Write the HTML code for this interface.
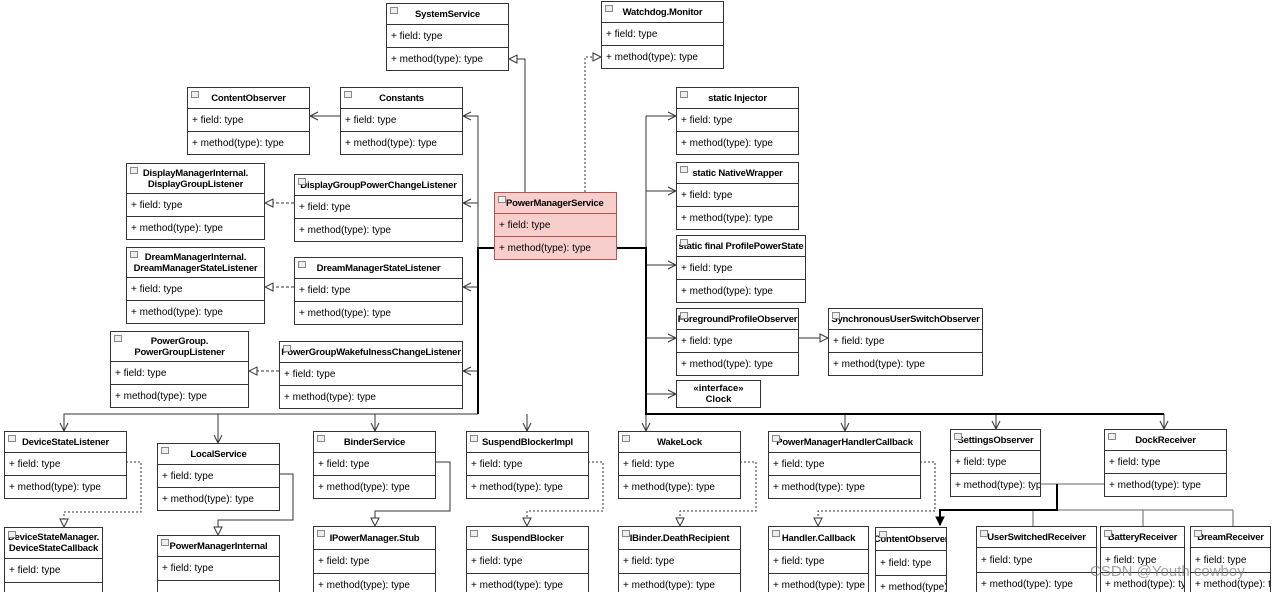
<!DOCTYPE html>
<html><head><meta charset="utf-8"><style>
html,body{margin:0;padding:0;background:#fff;width:1280px;height:592px;overflow:hidden;position:relative}
.b{position:absolute;border:1px solid #333;background:#fff;box-sizing:border-box;font:10px "Liberation Sans",sans-serif;color:#000;overflow:hidden}
.h{position:relative;font-weight:bold;font-size:9.5px;letter-spacing:-0.2px;text-align:center;border-bottom:1px solid #333;display:flex;align-items:center;justify-content:center;line-height:11px;white-space:nowrap}
.h::before{content:"";position:absolute;left:3px;top:3px;width:6px;height:5px;border:1px solid #888;background:#eee}
.r{padding-left:4px;border-bottom:1px solid #333;display:flex;align-items:center;white-space:nowrap}
.r.l{border-bottom:0}
.p{background:#f8cecc;border-color:#b85450}
.p .h,.p .r{border-color:#b85450}
svg{position:absolute;left:0;top:0}
</style></head><body>
<svg width="1280" height="592">
<defs>
<marker id="o" markerWidth="10" markerHeight="10" refX="9" refY="5" orient="auto" markerUnits="userSpaceOnUse"><path d="M1,1 L9,5 L1,9" fill="none" stroke="#333" stroke-width="1"/></marker>
<marker id="t" markerWidth="10" markerHeight="10" refX="9" refY="5" orient="auto" markerUnits="userSpaceOnUse"><path d="M1,1 L9,5 L1,9 Z" fill="#fff" stroke="#333" stroke-width="1"/></marker>
<marker id="bt" markerWidth="10" markerHeight="10" refX="9" refY="5" orient="auto" markerUnits="userSpaceOnUse"><path d="M1,1 L9,5 L1,9 Z" fill="#000" stroke="#000"/></marker>
</defs>
<g fill="none" stroke="#333" stroke-width="1">
<path d="M525,192 V59 H509" marker-end="url(#t)"/>
<path d="M585,192 V57 H601" stroke-dasharray="2,2" marker-end="url(#t)"/>
<path d="M340,116 H310" marker-end="url(#o)"/>
<path d="M478,248 V116 H463" marker-end="url(#o)"/>
<path d="M478,203 H463" marker-end="url(#o)"/>
<path d="M478,287 H463" marker-end="url(#o)"/>
<path d="M478,371 H463" marker-end="url(#o)"/>
<path d="M294,203 H265" stroke-dasharray="3,2" marker-end="url(#t)"/>
<path d="M294,287 H265" stroke-dasharray="3,2" marker-end="url(#t)"/>
<path d="M279,371 H249" stroke-dasharray="3,2" marker-end="url(#t)"/>
<path d="M646,116 H676" marker-end="url(#o)"/>
<path d="M646,191 H676" marker-end="url(#o)"/>
<path d="M646,265 H676" marker-end="url(#o)"/>
<path d="M646,338 H676" marker-end="url(#o)"/>
<path d="M646,394 H676" marker-end="url(#o)"/>
<path d="M646,116 V248"/>
<path d="M798,338 H828" marker-end="url(#t)"/>
<path d="M478,414 H64 V431" marker-end="url(#o)"/>
<path d="M218,414 V443" marker-end="url(#o)"/>
<path d="M375,414 V431" marker-end="url(#o)"/>
<path d="M527,414 V431" marker-end="url(#o)"/>
<path d="M646,414 V431" marker-end="url(#o)"/>
<path d="M845,414 V431" marker-end="url(#o)"/>
<path d="M996,414 V429" marker-end="url(#o)"/>
<path d="M1164,414 V429" marker-end="url(#o)"/>
<path d="M126,462 H141 V512 H64 V527" stroke-dasharray="2,2" marker-end="url(#t)"/>
<path d="M279,474 H293 V520 H218 V535" marker-end="url(#t)"/>
<path d="M435,462 H450 V511 H375 V526" marker-end="url(#t)"/>
<path d="M588,462 H603 V511 H527 V526" stroke-dasharray="2,2" marker-end="url(#t)"/>
<path d="M740,462 H756 V511 H680 V526" stroke-dasharray="2,2" marker-end="url(#t)"/>
<path d="M920,462 H935 V511 H818 V526" stroke-dasharray="2,2" marker-end="url(#t)"/>
<path d="M1040,484 H1104" stroke="#666"/>
<path d="M940,510 H1233 M1033,510 V526 M1143,510 V526 M1233,510 V526" stroke="#666"/>
</g>
<g fill="none" stroke="#000" stroke-width="2">
<path d="M494,248 H478 V414"/>
<path d="M616,248 H646 V414 H1164"/>
<path d="M1057,484 V510 H940 V525" marker-end="url(#bt)"/>
</g>
</svg>

<div class="b" style="left:386px;top:3px;width:123px"><div class="h" style="height:20px">SystemService</div><div class="r" style="height:22px">+ field: type</div><div class="r l" style="height:22px">+ method(type): type</div></div>
<div class="b" style="left:601px;top:1px;width:123px"><div class="h" style="height:20px">Watchdog.Monitor</div><div class="r" style="height:22px">+ field: type</div><div class="r l" style="height:22px">+ method(type): type</div></div>
<div class="b" style="left:187px;top:87px;width:123px"><div class="h" style="height:20px">ContentObserver</div><div class="r" style="height:22px">+ field: type</div><div class="r l" style="height:22px">+ method(type): type</div></div>
<div class="b" style="left:340px;top:87px;width:123px"><div class="h" style="height:20px">Constants</div><div class="r" style="height:22px">+ field: type</div><div class="r l" style="height:22px">+ method(type): type</div></div>
<div class="b" style="left:676px;top:87px;width:123px"><div class="h" style="height:20px">static Injector</div><div class="r" style="height:22px">+ field: type</div><div class="r l" style="height:22px">+ method(type): type</div></div>
<div class="b" style="left:126px;top:163px;width:139px"><div class="h" style="height:29px">DisplayManagerInternal.<br>DisplayGroupListener</div><div class="r" style="height:22px">+ field: type</div><div class="r l" style="height:22px">+ method(type): type</div></div>
<div class="b" style="left:294px;top:174px;width:169px"><div class="h" style="height:20px">DisplayGroupPowerChangeListener</div><div class="r" style="height:22px">+ field: type</div><div class="r l" style="height:22px">+ method(type): type</div></div>
<div class="b p" style="left:494px;top:192px;width:123px"><div class="h" style="height:20px;justify-content:flex-start;padding-left:11px">PowerManagerService</div><div class="r" style="height:22px">+ field: type</div><div class="r l" style="height:22px">+ method(type): type</div></div>
<div class="b" style="left:676px;top:162px;width:123px"><div class="h" style="height:20px">static NativeWrapper</div><div class="r" style="height:22px">+ field: type</div><div class="r l" style="height:22px">+ method(type): type</div></div>
<div class="b" style="left:676px;top:235px;width:130px"><div class="h" style="height:20px">static final ProfilePowerState</div><div class="r" style="height:22px">+ field: type</div><div class="r l" style="height:22px">+ method(type): type</div></div>
<div class="b" style="left:126px;top:247px;width:139px"><div class="h" style="height:29px">DreamManagerInternal.<br>DreamManagerStateListener</div><div class="r" style="height:22px">+ field: type</div><div class="r l" style="height:22px">+ method(type): type</div></div>
<div class="b" style="left:294px;top:257px;width:169px"><div class="h" style="height:20px">DreamManagerStateListener</div><div class="r" style="height:22px">+ field: type</div><div class="r l" style="height:22px">+ method(type): type</div></div>
<div class="b" style="left:676px;top:308px;width:123px"><div class="h" style="height:20px">ForegroundProfileObserver</div><div class="r" style="height:22px">+ field: type</div><div class="r l" style="height:22px">+ method(type): type</div></div>
<div class="b" style="left:828px;top:308px;width:155px"><div class="h" style="height:20px">SynchronousUserSwitchObserver</div><div class="r" style="height:22px">+ field: type</div><div class="r l" style="height:22px">+ method(type): type</div></div>
<div class="b" style="left:110px;top:331px;width:139px"><div class="h" style="height:29px">PowerGroup.<br>PowerGroupListener</div><div class="r" style="height:22px">+ field: type</div><div class="r l" style="height:22px">+ method(type): type</div></div>
<div class="b" style="left:279px;top:341px;width:184px"><div class="h" style="height:20px">PowerGroupWakefulnessChangeListener</div><div class="r" style="height:22px">+ field: type</div><div class="r l" style="height:22px">+ method(type): type</div></div>
<div class="b" style="left:676px;top:380px;width:85px;height:28px;text-align:center;font-weight:bold;font-size:9.5px;line-height:11px;padding-top:2px">«interface»<br>Clock</div>

<div class="b" style="left:4px;top:431px;width:123px"><div class="h" style="height:20px">DeviceStateListener</div><div class="r" style="height:22px">+ field: type</div><div class="r l" style="height:22px">+ method(type): type</div></div>
<div class="b" style="left:157px;top:443px;width:123px"><div class="h" style="height:20px">LocalService</div><div class="r" style="height:22px">+ field: type</div><div class="r l" style="height:22px">+ method(type): type</div></div>
<div class="b" style="left:313px;top:431px;width:123px"><div class="h" style="height:20px">BinderService</div><div class="r" style="height:22px">+ field: type</div><div class="r l" style="height:22px">+ method(type): type</div></div>
<div class="b" style="left:466px;top:431px;width:123px"><div class="h" style="height:20px">SuspendBlockerImpl</div><div class="r" style="height:22px">+ field: type</div><div class="r l" style="height:22px">+ method(type): type</div></div>
<div class="b" style="left:618px;top:431px;width:123px"><div class="h" style="height:20px">WakeLock</div><div class="r" style="height:22px">+ field: type</div><div class="r l" style="height:22px">+ method(type): type</div></div>
<div class="b" style="left:768px;top:431px;width:153px"><div class="h" style="height:20px">PowerManagerHandlerCallback</div><div class="r" style="height:22px">+ field: type</div><div class="r l" style="height:22px">+ method(type): type</div></div>
<div class="b" style="left:950px;top:429px;width:91px"><div class="h" style="height:20px">SettingsObserver</div><div class="r" style="height:22px">+ field: type</div><div class="r l" style="height:22px">+ method(type): type</div></div>
<div class="b" style="left:1104px;top:429px;width:123px"><div class="h" style="height:20px">DockReceiver</div><div class="r" style="height:22px">+ field: type</div><div class="r l" style="height:22px">+ method(type): type</div></div>

<div class="b" style="left:4px;top:527px;width:99px;height:70px"><div class="h" style="height:30px">DeviceStateManager.<br>DeviceStateCallback</div><div class="r" style="height:23px">+ field: type</div></div>
<div class="b" style="left:157px;top:535px;width:123px;height:62px"><div class="h" style="height:20px">PowerManagerInternal</div><div class="r" style="height:23px">+ field: type</div></div>
<div class="b" style="left:313px;top:526px;width:123px;height:70px"><div class="h" style="height:22px">IPowerManager.Stub</div><div class="r" style="height:23px">+ field: type</div><div class="r l" style="height:22px">+ method(type): type</div></div>
<div class="b" style="left:466px;top:526px;width:123px;height:70px"><div class="h" style="height:22px">SuspendBlocker</div><div class="r" style="height:23px">+ field: type</div><div class="r l" style="height:22px">+ method(type): type</div></div>
<div class="b" style="left:618px;top:526px;width:123px;height:70px"><div class="h" style="height:22px">IBinder.DeathRecipient</div><div class="r" style="height:23px">+ field: type</div><div class="r l" style="height:22px">+ method(type): type</div></div>
<div class="b" style="left:768px;top:526px;width:101px;height:70px"><div class="h" style="height:22px">Handler.Callback</div><div class="r" style="height:23px">+ field: type</div><div class="r l" style="height:22px">+ method(type): type</div></div>
<div class="b" style="left:875px;top:527px;width:72px;height:70px"><div class="h" style="height:22px">ContentObserver</div><div class="r" style="height:24px">+ field: type</div><div class="r l" style="height:22px">+ method(type): type</div></div>
<div class="b" style="left:976px;top:526px;width:121px;height:70px"><div class="h" style="height:20px">UserSwitchedReceiver</div><div class="r" style="height:24px">+ field: type</div><div class="r l" style="height:22px">+ method(type): type</div></div>
<div class="b" style="left:1100px;top:526px;width:85px;height:70px"><div class="h" style="height:20px">BatteryReceiver</div><div class="r" style="height:24px">+ field: type</div><div class="r l" style="height:22px">+ method(type): type</div></div>
<div class="b" style="left:1190px;top:526px;width:81px;height:70px"><div class="h" style="height:20px">DreamReceiver</div><div class="r" style="height:24px">+ field: type</div><div class="r l" style="height:22px">+ method(type): type</div></div>
<div style="position:absolute;left:1090px;top:563px;font:15px 'Liberation Sans',sans-serif;color:rgba(120,120,120,0.7)">CSDN @Youth cowboy</div>
</body></html>
